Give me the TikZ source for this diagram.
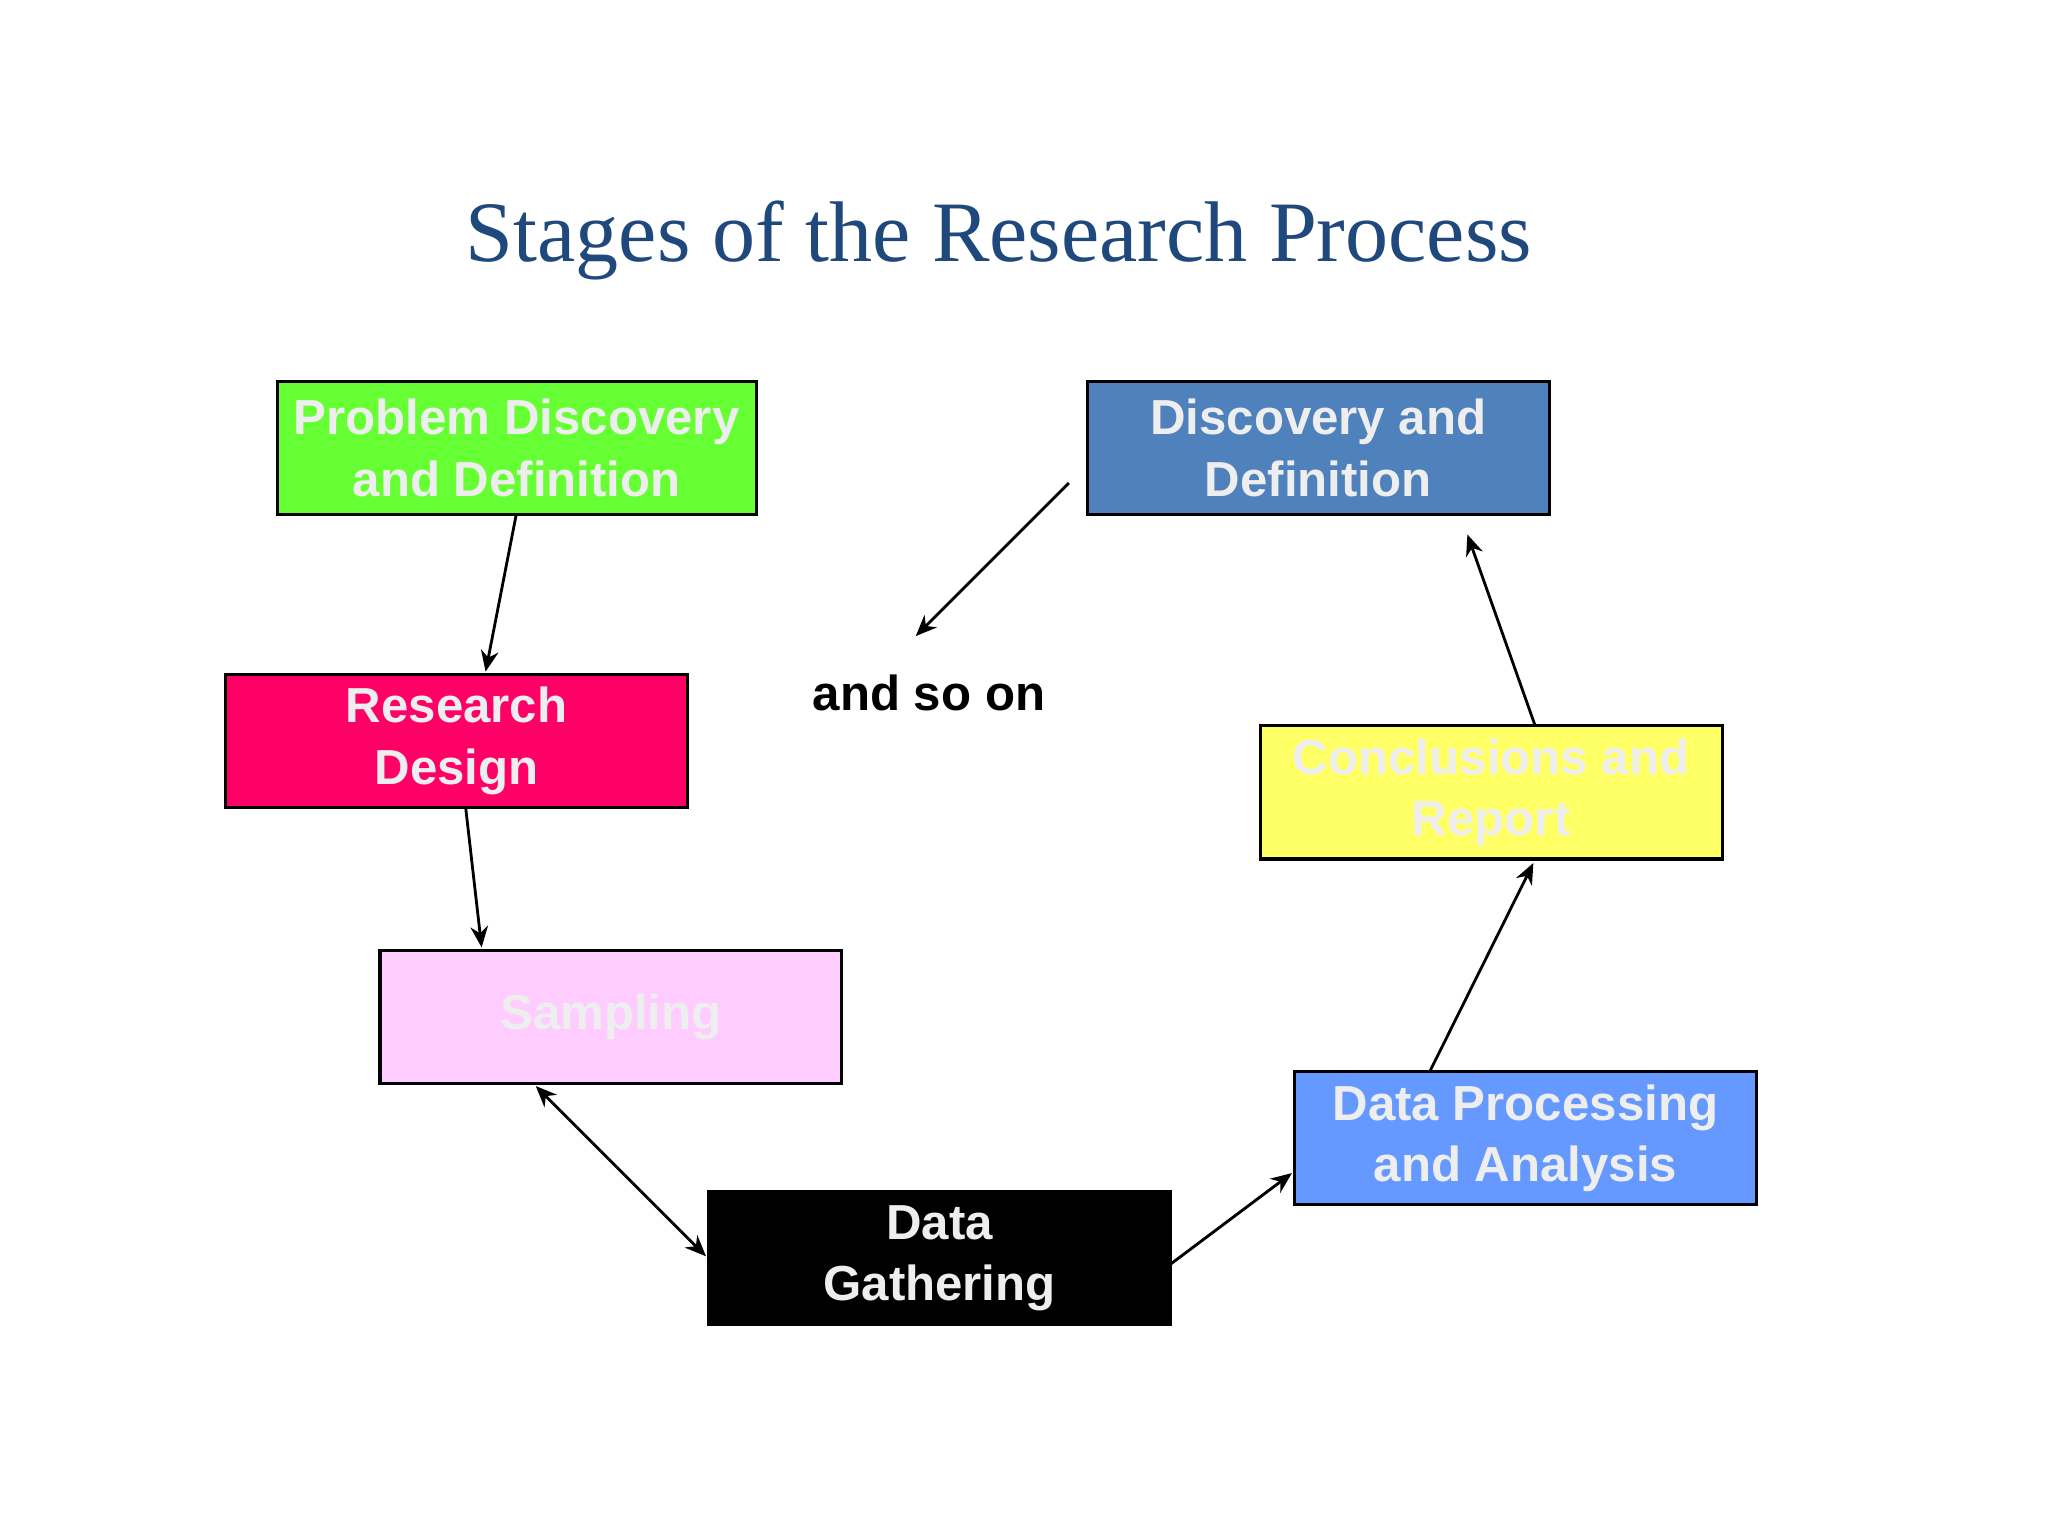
\documentclass[tikz,border=0pt]{standalone}
\usepackage{fontspec}
\setmainfont{Liberation Serif}
\newfontfamily\boxfont{Liberation Sans}
\usetikzlibrary{arrows.meta}
\definecolor{ttl}{HTML}{1F497D}
\definecolor{cPD}{HTML}{66FF33}
\definecolor{cRD}{HTML}{FF0066}
\definecolor{cSA}{HTML}{FFCCFF}
\definecolor{cDPA}{HTML}{6699FF}
\definecolor{cCR}{HTML}{FFFF66}
\definecolor{cDD}{HTML}{4F81BD}
\definecolor{txt}{HTML}{EEEEEE}
\tikzset{
 stage/.style={draw=black, line width=0.9pt, minimum width=350*0.0132cm, minimum height=101*0.0132cm,
   inner sep=0pt, align=center, text=txt, font=\boxfont\bfseries\fontsize{14pt}{17.5pt}\selectfont},
 arr/.style={draw=black, line width=0.8pt, -{Stealth[length=6pt,width=5pt]}},
}
\begin{document}
\begin{tikzpicture}[x=0.0132cm,y=-0.0132cm]
\useasboundingbox[fill=white] (0,0) rectangle (1552,1164);
\node[text=ttl, font=\fontsize{24.5pt}{29pt}\selectfont] (title) at (757,182) {Stages of the Research Process};
\node[stage, fill=cPD, minimum width=363*0.0132cm] (pd) at (391.5,339.5) {Problem Discovery\\and Definition};
\node[stage, fill=cRD] (rd) at (346,561.5) {Research\\Design};
\node[stage, fill=cSA] (sa) at (463,770.5) {Sampling};
\node[stage, fill=black] (dg) at (712,953.5) {Data\\Gathering};
\node[stage, fill=cDPA] (dpa) at (1156,862.5) {Data Processing\\and Analysis};
\node[stage, fill=cCR] (cr) at (1130,600.5) {Conclusions and\\Report};
\node[stage, fill=cDD] (dd) at (999,339.5) {Discovery and\\Definition};
\node[font=\boxfont\bfseries\fontsize{14pt}{17pt}\selectfont] (aso) at (704,525) {and so on};
\coordinate (p1) at (391,391); \coordinate (p2) at (368,509);
\coordinate (r1) at (353,613); \coordinate (r2) at (365,718);
\coordinate (s1) at (406,823); \coordinate (s2) at (535,952);
\coordinate (g1) at (887,958); \coordinate (g2) at (979,889);
\coordinate (d1) at (1084,811); \coordinate (d2) at (1162,654);
\coordinate (c1) at (1163,549); \coordinate (c2) at (1112,405);
\coordinate (e1) at (810,366); \coordinate (e2) at (694,482);
\draw[arr] (p1) -- (p2);
\draw[arr] (r1) -- (r2);
\draw[arr, {Stealth[length=6pt,width=5pt]}-{Stealth[length=6pt,width=5pt]}] (s1) -- (s2);
\draw[arr] (g1) -- (g2);
\draw[arr] (d1) -- (d2);
\draw[arr] (c1) -- (c2);
\draw[arr] (e1) -- (e2);
\end{tikzpicture}
\end{document}
